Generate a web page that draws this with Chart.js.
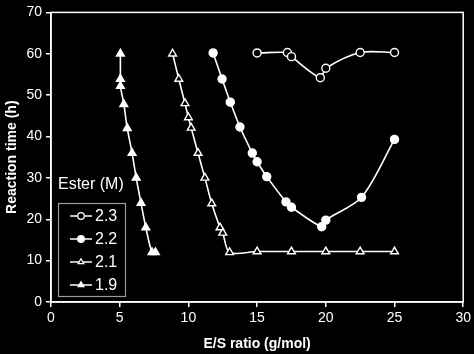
<!DOCTYPE html>
<html>
<head>
<meta charset="utf-8">
<script src="https://cdn.jsdelivr.net/npm/chart.js@4.4.1/dist/chart.umd.min.js"></script>
<style>
  html, body { margin: 0; padding: 0; background: #000; }
  #wrap { width: 474px; height: 354px; }
</style>
</head>
<body>
<div id="wrap"><canvas id="c" width="474" height="354"></canvas></div>
<script>
// E/S ratio (g/mol) and reaction time (h), one pair of arrays per ester level
const ester23X = [15, 17.2, 17.5, 19.6, 20, 22.5, 25];
const ester23Y = [60.2, 60.3, 59.3, 54.2, 56.5, 60.3, 60.3];

const ester22X = [11.8, 12.45, 13.05, 13.75, 14.65, 15, 15.7, 17.1, 17.5, 19.7, 20, 22.6, 25];
const ester22Y = [60.2, 53.9, 48.3, 42.3, 36, 33.9, 30.3, 24.2, 22.9, 18.2, 19.8, 25.3, 39.3];

const ester21X = [8.85, 9.3, 9.75, 10, 10.2, 10.7, 11.2, 11.7, 12.3, 12.5, 13, 15, 17.5, 20, 22.5, 25];
const ester21Y = [60, 53.9, 48, 44.6, 42.1, 36, 30, 23.8, 18, 16.7, 12, 12.2, 12.2, 12.2, 12.2, 12.2];

const ester19X = [5.05, 5.05, 5.05, 5.3, 5.55, 5.9, 6.2, 6.55, 6.9, 7.35, 7.6];
const ester19Y = [60, 53.9, 52.2, 47.8, 42, 36, 30, 23.9, 18, 12, 12];

const seriesLabels = ['2.3', '2.2', '2.1', '1.9'];
const xTicks = [0, 5, 10, 15, 20, 25, 30];
const yTicks = [0, 10, 20, 30, 40, 50, 60, 70];

const pts = (xs, ys) => xs.map((x, i) => ({ x, y: ys[i] }));

const FONT = '"Liberation Sans", Arial, sans-serif';
const W = '#ffffff';

const mk = (label, data, style, open, r) => ({
  label,
  data,
  showLine: true,
  borderColor: W,
  borderWidth: 1.6,
  tension: 0.3,
  pointStyle: style,
  pointRadius: r,
  pointBorderWidth: 1.4,
  pointBackgroundColor: open ? '#000' : W,
  pointBorderColor: W
});

// black page + frame around the plot
const frame = {
  id: 'frame',
  beforeDraw(chart) {
    const { ctx } = chart;
    ctx.save();
    ctx.fillStyle = '#000';
    ctx.fillRect(0, 0, chart.width, chart.height);
    ctx.restore();
  },
  afterDatasetsDraw(chart) {
    const { ctx, chartArea: a } = chart;
    ctx.save();
    ctx.strokeStyle = W;
    ctx.lineWidth = 1.5;
    ctx.strokeRect(a.left, a.top, a.right - a.left, a.bottom - a.top);
    ctx.restore();
  }
};

// legend box in the lower left, with line + marker samples
const legendBox = {
  id: 'legendBox',
  afterDraw(chart) {
    const { ctx } = chart;
    ctx.save();
    ctx.fillStyle = W;
    ctx.font = '16px ' + FONT;
    ctx.textBaseline = 'middle';
    ctx.fillText('Ester (M)', 58, 185);
    ctx.strokeStyle = '#9a9a9a';
    ctx.lineWidth = 1.2;
    ctx.strokeRect(58.5, 203.5, 67, 93);
    const rows = [216, 239, 262, 285];
    chart.data.datasets.forEach((ds, i) => {
      const y = rows[i];
      ctx.strokeStyle = W;
      ctx.lineWidth = 1.5;
      ctx.beginPath();
      ctx.moveTo(70, y);
      ctx.lineTo(92, y);
      ctx.stroke();
      ctx.fillStyle = ds.pointBackgroundColor;
      ctx.strokeStyle = W;
      ctx.lineWidth = 1.3;
      Chart.helpers.drawPoint(ctx, { pointStyle: ds.pointStyle, radius: 3.3, rotation: 0, borderWidth: 1.3 }, 81, y);
      ctx.fillStyle = W;
      ctx.font = '16px ' + FONT;
      ctx.fillText(seriesLabels[i], 95, y + 1);
    });
    ctx.restore();
  }
};

new Chart(document.getElementById('c').getContext('2d'), {
  type: 'scatter',
  data: {
    datasets: [
      mk(seriesLabels[0], pts(ester23X, ester23Y), 'circle', true, 4),
      mk(seriesLabels[1], pts(ester22X, ester22Y), 'circle', false, 4),
      mk(seriesLabels[2], pts(ester21X, ester21Y), 'triangle', true, 4.5),
      mk(seriesLabels[3], pts(ester19X, ester19Y), 'triangle', false, 4.5)
    ]
  },
  options: {
    responsive: false,
    animation: false,
    devicePixelRatio: 1,
    layout: { padding: { top: 12, right: 10, left: 0, bottom: 0 } },
    plugins: { legend: { display: false }, tooltip: { enabled: false } },
    scales: {
      x: {
        type: 'linear',
        min: 0, max: 30,
        afterBuildTicks: (s) => { s.ticks = xTicks.map((v) => ({ value: v })); },
        afterFit: (s) => { s.height = 52; },
        grid: { drawOnChartArea: false, color: W, tickLength: 5, lineWidth: 1.5 },
        border: { color: W, width: 1.5 },
        ticks: { color: W, font: { family: FONT, size: 14 }, padding: 3, maxRotation: 0 },
        title: { display: true, text: 'E/S ratio (g/mol)', color: W, font: { family: FONT, size: 14, weight: 'bold' }, padding: { top: 6, bottom: 1 } }
      },
      y: {
        type: 'linear',
        min: 0, max: 70,
        afterBuildTicks: (s) => { s.ticks = yTicks.map((v) => ({ value: v })); },
        afterFit: (s) => { s.width = 51; },
        grid: { drawOnChartArea: false, color: W, tickLength: 5, lineWidth: 1.5 },
        border: { color: W, width: 1.5 },
        ticks: { color: W, font: { family: FONT, size: 14 }, padding: 4 },
        title: { display: true, text: 'Reaction time (h)', color: W, font: { family: FONT, size: 14, weight: 'bold' }, padding: { bottom: 2 } }
      }
    }
  },
  plugins: [frame, legendBox]
});
</script>
</body>
</html>
